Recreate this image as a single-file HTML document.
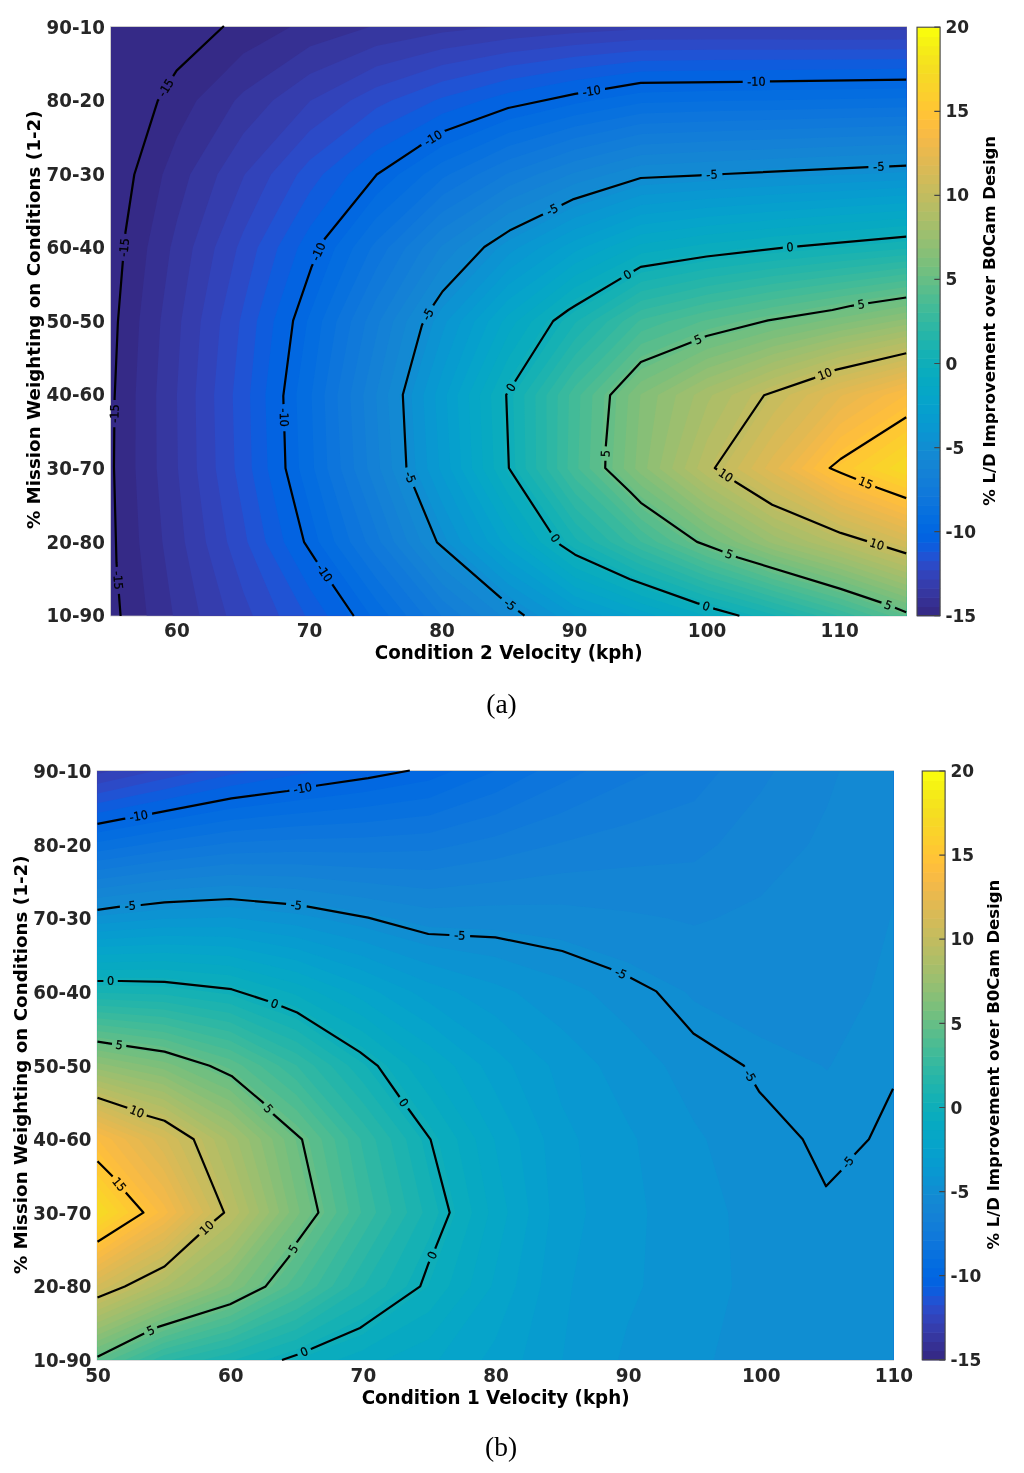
<!DOCTYPE html>
<html><head><meta charset="utf-8"><title>figure</title>
<style>html,body{margin:0;padding:0;background:#fff;width:1024px;height:1473px;overflow:hidden}svg{display:block}</style>
</head><body><svg width="1024" height="1473" viewBox="0 0 1024 1473">
<rect x="111.00" y="27.00" width="795.30" height="588.60" fill="none" stroke="#b8b8b8" stroke-width="1.4"/>
<rect x="97.50" y="771.00" width="795.80" height="588.80" fill="none" stroke="#b8b8b8" stroke-width="1.4"/>
<rect x="111.0" y="27.0" width="795.3" height="588.6" fill="#352a87"/>
<path d="M196.6 100.6L243.5 53.6L290.3 27L309.8 27L376.1 27L442.4 27L508.6 27L574.9 27L641.2 27L707.5 27L773.7 27L840 27L906.3 27L906.3 100.6L906.3 174.2L906.3 247.7L906.3 321.3L906.3 394.9L906.3 468.5L906.3 542L906.3 615.6L840 615.6L773.7 615.6L707.5 615.6L641.2 615.6L574.9 615.6L508.6 615.6L442.4 615.6L376.1 615.6L309.8 615.6L243.5 615.6L177.3 615.6L146.7 615.6L139.2 542L135.5 468.5L135.6 394.9L139.3 321.3L147.3 247.7L162.6 174.2L177.3 136.7Z" fill="#363093"/>
<path d="M234.7 100.6L243.5 91.8L309.8 46.4L369.4 27L376.1 27L442.4 27L508.6 27L574.9 27L641.2 27L707.5 27L773.7 27L840 27L906.3 27L906.3 100.6L906.3 174.2L906.3 247.7L906.3 321.3L906.3 394.9L906.3 468.5L906.3 542L906.3 615.6L840 615.6L773.7 615.6L707.5 615.6L641.2 615.6L574.9 615.6L508.6 615.6L442.4 615.6L376.1 615.6L309.8 615.6L243.5 615.6L177.3 615.6L172.9 615.6L162.4 542L156.7 468.5L156.2 394.9L160.4 321.3L170.4 247.7L177.3 219.5L190.3 174.2Z" fill="#3637a0"/>
<path d="M272.8 100.6L309.8 73.9L376.1 46L442.4 32.6L493.6 27L508.6 27L574.9 27L641.2 27L707.5 27L773.7 27L840 27L906.3 27L906.3 100.6L906.3 174.2L906.3 247.7L906.3 321.3L906.3 394.9L906.3 468.5L906.3 542L906.3 615.6L840 615.6L773.7 615.6L707.5 615.6L641.2 615.6L574.9 615.6L508.6 615.6L442.4 615.6L376.1 615.6L309.8 615.6L243.5 615.6L199.5 615.6L184.8 542L177.9 468.5L177.3 421.3L176.9 394.9L177.3 388.6L181.2 321.3L192.8 247.7L217.6 174.2L243.5 133.5Z" fill="#353dad"/>
<path d="M310.8 100.6L376.1 66.6L442.4 48.9L508.6 39.1L574.9 33.1L641.2 29.3L707.5 29.2L773.7 29.5L840 29.8L906.3 29.9L906.3 100.6L906.3 174.2L906.3 247.7L906.3 321.3L906.3 394.9L906.3 468.5L906.3 542L906.3 615.6L840 615.6L773.7 615.6L707.5 615.6L641.2 615.6L574.9 615.6L508.6 615.6L442.4 615.6L376.1 615.6L309.8 615.6L243.5 615.6L226.2 615.6L205.9 542L196.8 468.5L195.5 394.9L200.7 321.3L214.8 247.7L243.5 176.9L244.9 174.2L309.8 101.3Z" fill="#3243ba"/>
<path d="M350.5 100.6L376.1 87.3L442.4 65.1L508.6 52.5L574.9 44.9L641.2 39.8L707.5 39.5L773.7 39.6L840 39.7L906.3 39.6L906.3 100.6L906.3 174.2L906.3 247.7L906.3 321.3L906.3 394.9L906.3 468.5L906.3 542L906.3 615.6L840 615.6L773.7 615.6L707.5 615.6L641.2 615.6L574.9 615.6L508.6 615.6L442.4 615.6L376.1 615.6L309.8 615.6L252.8 615.6L243.6 592.8L227.1 542L215.7 468.5L214.1 394.9L220.2 321.3L236.9 247.7L243.5 231.3L271.1 174.2L309.8 130.7Z" fill="#2c4ac7"/>
<path d="M391.5 100.6L442.4 81.4L508.6 66L574.9 56.7L641.2 50.4L707.5 49.8L773.7 49.7L840 49.6L906.3 49.3L906.3 100.6L906.3 174.2L906.3 247.7L906.3 321.3L906.3 394.9L906.3 468.5L906.3 542L906.3 615.6L840 615.6L773.7 615.6L707.5 615.6L641.2 615.6L574.9 615.6L508.6 615.6L442.4 615.6L376.1 615.6L309.8 615.6L279 615.6L247.5 542L243.5 518.8L234.6 468.5L232.7 394.9L239.7 321.3L243.5 305L257.6 247.7L297.3 174.2L309.8 160.1L376.1 108.2Z" fill="#2053d4"/>
<path d="M434.6 100.6L442.4 97.6L508.6 79.4L574.9 68.5L641.2 60.9L707.5 60.1L773.7 59.8L840 59.5L906.3 59.1L906.3 100.6L906.3 174.2L906.3 247.7L906.3 321.3L906.3 394.9L906.3 468.5L906.3 542L906.3 615.6L840 615.6L773.7 615.6L707.5 615.6L641.2 615.6L574.9 615.6L508.6 615.6L442.4 615.6L376.1 615.6L309.8 615.6L305.2 615.6L265.7 542L251.8 468.5L250 394.9L256.9 321.3L277.7 247.7L309.8 192.2L323 174.2L376.1 129.5Z" fill="#0f5cdd"/>
<path d="M481.3 100.6L508.6 92.8L574.9 80.2L641.2 71.4L707.5 70.4L773.7 69.9L840 69.4L906.3 68.8L906.3 100.6L906.3 174.2L906.3 247.7L906.3 321.3L906.3 394.9L906.3 468.5L906.3 542L906.3 615.6L840 615.6L773.7 615.6L707.5 615.6L641.2 615.6L574.9 615.6L508.6 615.6L442.4 615.6L376.1 615.6L327.4 615.6L309.8 588.7L283.9 542L267.6 468.5L265.4 394.9L273.7 321.3L297.8 247.7L309.8 227L348.3 174.2L376.1 150.8L442.4 113.8Z" fill="#0363e1"/>
<path d="M533.1 100.6L574.9 92L641.2 82L707.5 80.7L773.7 80L840 79.3L906.3 78.5L906.3 100.6L906.3 174.2L906.3 247.7L906.3 321.3L906.3 394.9L906.3 468.5L906.3 542L906.3 615.6L840 615.6L773.7 615.6L707.5 615.6L641.2 615.6L574.9 615.6L508.6 615.6L442.4 615.6L376.1 615.6L348.8 615.6L309.8 556L302.1 542L283.3 468.5L280.9 394.9L290.4 321.3L309.8 266.7L317 247.7L373.6 174.2L376.1 172L442.4 129.9L508.6 106.2Z" fill="#0268e1"/>
<path d="M592.4 100.6L641.2 92.5L707.5 91L773.7 90.1L840 89.2L906.3 88.3L906.3 100.6L906.3 174.2L906.3 247.7L906.3 321.3L906.3 394.9L906.3 468.5L906.3 542L906.3 615.6L840 615.6L773.7 615.6L707.5 615.6L641.2 615.6L574.9 615.6L508.6 615.6L442.4 615.6L376.1 615.6L370.2 615.6L318.8 542L309.8 508.5L299 468.5L296.3 394.9L307.1 321.3L309.8 313.7L335 247.7L376.1 194.9L398.7 174.2L442.4 146L508.7 119.5L574.9 103.7Z" fill="#046de0"/>
<path d="M751.9 100.6L773.7 100.2L840 99.1L906.3 98L906.3 100.6L906.3 174.2L906.3 247.7L906.3 321.3L906.3 394.9L906.3 468.5L906.3 542L906.3 615.6L840 615.6L773.7 615.6L707.5 615.6L641.2 615.6L574.9 615.6L508.6 615.6L442.4 615.6L388.7 615.6L376.1 599.9L334.4 542L314 468.5L311.5 394.9L322 321.3L352.9 247.7L376.1 217.9L423.7 174.2L442.4 162.1L508.6 132.8L574.9 115.2L641.2 103L707.5 101.2Z" fill="#0871de"/>
<path d="M449.5 174.2L508.6 146.1L574.9 126.6L641.2 113.4L707.5 111.3L773.7 110L840 108.6L906.3 107.3L906.3 174.2L906.3 247.7L906.3 321.3L906.3 394.9L906.3 468.5L906.3 542L906.3 615.6L840 615.6L773.7 615.6L707.5 615.6L641.2 615.6L574.9 615.6L508.6 615.6L442.4 615.6L406.2 615.6L376.1 578.2L350 542L327.3 468.5L324.4 394.9L336.5 321.3L370.8 247.7L376.1 240.9L442.4 178.4Z" fill="#0d75dc"/>
<path d="M477.6 174.2L508.6 159.5L574.9 138.1L641.2 123.8L707.5 121.4L773.7 119.8L840 118.1L906.3 116.6L906.3 174.2L906.3 247.7L906.3 321.3L906.3 394.9L906.3 468.5L906.3 542L906.3 615.6L840 615.6L773.7 615.6L707.5 615.6L641.2 615.6L574.9 615.6L508.6 615.6L442.4 615.6L423.7 615.6L376.1 556.6L365.6 542L340.6 468.5L337.3 394.9L351 321.3L376.1 269L388.2 247.7L442.4 195.1Z" fill="#1079da"/>
<path d="M505.7 174.2L508.6 172.8L574.9 149.5L641.2 134.1L707.5 131.5L773.7 129.5L840 127.6L906.3 125.8L906.3 174.2L906.3 247.7L906.3 321.3L906.3 394.9L906.3 468.5L906.3 542L906.3 615.6L840 615.6L773.7 615.6L707.5 615.6L641.2 615.6L574.9 615.6L508.6 615.6L442.4 615.6L441.2 615.6L380.5 542L376.1 529.9L353.9 468.5L350.3 394.9L365.5 321.3L376.1 299.2L405.4 247.7L442.4 211.8Z" fill="#127dd8"/>
<path d="M537.6 174.1L574.9 161L641.2 144.5L707.5 141.5L773.7 139.3L840 137.1L906.3 135.1L906.3 174.2L906.3 247.7L906.3 321.3L906.3 394.9L906.3 468.5L906.3 542L906.3 615.6L840 615.6L773.7 615.6L707.5 615.6L641.2 615.6L574.9 615.6L508.6 615.6L460.8 615.6L442.4 600.5L393.9 542L376.1 493L367.2 468.5L363.2 394.9L376.1 336.8L379.7 321.3L422.6 247.7L442.4 228.5L508.6 186.2Z" fill="#1481d6"/>
<path d="M570 174.2L574.9 172.4L641.2 154.9L707.5 151.6L773.7 149L840 146.5L906.3 144.3L906.3 174.2L906.3 247.7L906.3 321.3L906.3 394.9L906.3 468.5L906.3 542L906.3 615.6L840 615.6L773.7 615.6L707.5 615.6L641.2 615.6L574.9 615.6L508.6 615.6L480.6 615.6L442.4 584.4L407.3 542L380 468.5L376.1 394.9L393.1 321.3L439.8 247.7L442.4 245.2L508.6 199.7Z" fill="#1485d4"/>
<path d="M607.9 174.2L641.2 165.3L707.5 161.7L773.7 158.8L840 156L906.3 153.5L906.3 174.2L906.3 247.7L906.3 321.3L906.3 394.9L906.3 468.5L906.3 542L906.3 615.6L840 615.6L773.7 615.6L707.5 615.6L641.2 615.6L574.9 615.6L508.6 615.6L500.4 615.6L442.4 568.2L420.7 542L391.9 468.5L387.9 394.9L406.5 321.3L442.4 265.5L458.9 247.7L508.6 213.2L574.9 183.7Z" fill="#1389d3"/>
<path d="M666.4 174.2L707.5 171.7L773.7 168.6L840 165.5L906.3 162.8L906.3 174.2L906.3 247.7L906.3 321.3L906.3 394.9L906.3 468.5L906.3 542L906.3 615.6L840 615.6L773.7 615.6L707.5 615.6L641.2 615.6L574.9 615.6L519.3 615.6L508.6 608.6L442.4 552L434.1 542L403.7 468.5L399.7 394.9L420 321.3L442.4 286.4L478.4 247.7L508.6 226.7L574.9 195L641.2 175.6Z" fill="#108ed2"/>
<path d="M858 174.2L906.3 172L906.3 174.2L906.3 247.7L906.3 321.3L906.3 394.9L906.3 468.5L906.3 542L906.3 615.6L840 615.6L773.7 615.6L707.5 615.6L641.2 615.6L574.9 615.6L537.8 615.6L508.6 596.6L447.5 542L442.4 531.4L415.5 468.5L411.5 394.9L433.4 321.3L442.4 307.3L497.8 247.7L508.6 240.2L574.9 206.3L641.2 185.3L707.5 181L773.7 177.7L840 174.8Z" fill="#0c93d2"/>
<path d="M518.1 247.7L574.9 217.6L641.2 195.1L707.5 189.9L773.7 186.2L840 182.9L906.3 180L906.3 247.7L906.3 321.3L906.3 394.9L906.3 468.5L906.3 542L906.3 615.6L840 615.6L773.7 615.6L707.5 615.6L641.2 615.6L574.9 615.6L556.2 615.6L508.6 584.5L461 542L442.4 503.7L427.3 468.5L423.3 394.9L442.4 333.8L447 321.3L508.6 254.4Z" fill="#0998d1"/>
<path d="M539.4 247.7L574.9 228.9L641.2 204.9L707.5 198.8L773.8 194.6L840 190.9L906.3 187.6L906.3 247.7L906.3 321.3L906.3 394.9L906.3 468.5L906.3 542L906.3 615.6L840 615.6L773.7 615.6L707.5 615.6L641.2 615.6L574.9 615.6L574.6 615.6L508.6 572.5L474.5 542L442.4 476.1L439.1 468.5L435 394.9L442.4 371.5L460.8 321.3L508.6 269.4Z" fill="#079ccf"/>
<path d="M560.7 247.7L574.9 240.2L641.2 214.6L707.5 207.8L773.7 203L840 199L906.3 195.3L906.3 247.7L906.3 321.3L906.3 394.9L906.3 468.5L906.3 542L906.3 615.6L840 615.6L773.7 615.6L707.5 615.6L641.2 615.6L602.2 615.6L574.9 606.2L508.6 560.5L488 542L450.3 468.5L446.6 394.9L474.6 321.3L508.6 284.3Z" fill="#06a0cd"/>
<path d="M583 247.7L641.2 224.4L707.5 216.7L773.7 211.4L840 207L906.3 202.9L906.3 247.7L906.3 321.3L906.3 394.9L906.3 468.5L906.3 542L906.3 615.6L840 615.6L773.7 615.6L707.5 615.6L641.2 615.6L629.9 615.6L574.9 596.6L508.6 548.4L501.5 542L461.1 468.5L457.6 394.9L488.4 321.3L508.6 299.3L574.9 251.7Z" fill="#06a4ca"/>
<path d="M607.4 247.7L641.2 234.2L707.5 225.7L773.7 219.8L840 215.1L906.3 210.5L906.3 247.7L906.3 321.3L906.3 394.9L906.3 468.5L906.3 542L906.3 615.6L840 615.6L773.7 615.6L707.5 615.6L655.7 615.6L641.2 611.1L574.9 587.1L514.6 542L508.6 533.1L472 468.5L468.7 394.9L502.2 321.3L508.6 314.3L574.9 263.5Z" fill="#06a7c6"/>
<path d="M631.8 247.7L641.2 243.9L707.5 234.6L773.7 228.2L840 223.1L906.3 218.2L906.3 247.7L906.3 321.3L906.3 394.9L906.3 468.5L906.3 542L906.3 615.6L840 615.6L773.7 615.6L707.5 615.6L680.2 615.6L641.2 603.4L574.9 577.5L527.4 542L508.6 514L482.8 468.5L479.8 394.9L508.6 333.8L516.7 321.3L574.9 275.4Z" fill="#07a9c2"/>
<path d="M678.9 247.7L707.5 243.6L773.7 236.6L840 231.2L906.3 225.8L906.3 247.7L906.3 321.3L906.3 394.9L906.3 468.5L906.3 542L906.3 615.6L840 615.6L773.7 615.6L707.5 615.6L704.6 615.6L641.2 595.7L574.9 568L540.2 542L508.6 494.8L493.7 468.5L490.9 394.9L508.6 357.2L531.8 321.3L574.9 287.3L641.2 253.5Z" fill="#0aacbe"/>
<path d="M749 247.7L773.7 245L840 239.2L906.3 233.4L906.3 247.7L906.3 321.3L906.3 394.9L906.3 468.5L906.3 542L906.3 615.6L840 615.6L773.7 615.6L728.8 615.6L707.5 609.7L641.2 588.1L574.9 558.4L553 542L508.6 475.7L504.6 468.5L501.9 394.9L508.6 380.7L546.8 321.3L574.9 299.2L641.2 262.9L707.5 252.2Z" fill="#0faeb9"/>
<path d="M834.6 247.7L840 247.2L906.3 241.1L906.3 247.7L906.3 321.3L906.3 394.9L906.3 468.5L906.3 542L906.3 615.6L840 615.6L773.7 615.6L752.8 615.6L707.5 603.1L641.2 580.4L574.9 548.8L565.8 542L515.2 468.5L513.1 394.9L561.9 321.3L574.9 311L641.2 272.4L707.5 260.7L773.7 253Z" fill="#15b1b4"/>
<path d="M577 321.3L641.2 281.8L707.5 269.1L773.7 260.7L840 254.3L906.3 248.5L906.3 321.3L906.3 394.9L906.3 468.5L906.3 542L906.3 615.6L840 615.6L776.4 615.6L773.7 614.8L707.5 596.5L641.2 572.7L579.4 542L574.9 537.8L525.6 468.5L524.2 394.9L574.9 323.4Z" fill="#1db3af"/>
<path d="M592.3 321.3L641.2 291.2L707.5 277.6L773.7 268.4L840 261.3L906.3 254.9L906.3 321.3L906.3 394.9L906.3 468.5L906.3 542L906.3 615.6L840 615.6L796.7 615.6L773.7 608.9L707.5 589.9L641.2 565.1L594.8 542L574.9 523.1L536.1 468.5L535.4 394.9L574.9 339.2Z" fill="#25b5a9"/>
<path d="M607.7 321.3L641.2 300.7L707.5 286L773.7 276.1L840 268.4L906.3 261.3L906.3 321.3L906.3 394.9L906.3 468.5L906.3 542L906.3 615.6L840 615.6L817 615.6L773.7 603L707.5 583.2L641.2 557.4L610.2 542L574.9 508.3L546.6 468.5L546.5 394.9L574.9 354.9Z" fill="#2eb7a4"/>
<path d="M623 321.3L641.2 310.1L707.5 294.4L773.7 283.8L840 275.4L906.3 267.7L906.3 321.3L906.3 394.9L906.3 468.5L906.3 542L906.3 615.6L840 615.6L837.2 615.6L773.7 597.1L707.5 576.6L641.2 549.7L625.7 542L574.9 493.6L557.1 468.5L557.7 394.9L574.9 370.6Z" fill="#38b99e"/>
<path d="M638.3 321.3L641.2 319.5L707.5 302.9L773.7 291.5L840 282.4L906.3 274.1L906.3 321.3L906.3 394.9L906.3 468.5L906.3 542L906.3 615.6L855 615.6L840 610.5L773.7 591.1L707.5 570L641.2 542.1L641.1 542L574.9 478.9L567.5 468.5L568.9 394.9L574.9 386.3Z" fill="#42bb98"/>
<path d="M668.1 321.3L707.5 311.3L773.7 299.2L840 289.4L906.3 280.5L906.3 321.3L906.3 394.9L906.3 468.5L906.3 542L906.3 615.6L872.3 615.6L840 604.5L773.7 585.2L707.5 563.3L656.8 542L641.2 530.8L578.3 468.4L580.4 394.9L641.2 331.4Z" fill="#4dbc92"/>
<path d="M701.3 321.3L707.5 319.7L773.7 307L840 296.4L906.3 286.9L906.3 321.3L906.3 394.9L906.3 468.5L906.3 542L906.3 615.6L889.6 615.6L840 598.5L773.7 579.3L707.5 556.7L672.6 542L641.2 519.6L589.6 468.5L592.4 394.9L641.2 344Z" fill="#59bd8c"/>
<path d="M739.7 321.3L773.7 314.7L840 303.4L906.3 293.2L906.3 321.3L906.3 394.9L906.3 468.5L906.3 542L906.3 615.4L840 592.6L773.7 573.4L707.5 550.1L688.3 542L641.2 508.3L601 468.5L604.4 394.9L641.2 356.5L707.5 329.2Z" fill="#65be86"/>
<path d="M779.2 321.3L840 310.5L906.3 299.6L906.3 321.3L906.3 394.9L906.3 468.5L906.3 542L906.3 609.2L840 586.6L773.7 567.5L707.5 543.5L704 542L641.2 497.1L612.3 468.5L616.4 394.9L641.2 369L707.5 338.9L773.7 322.4Z" fill="#71bf80"/>
<path d="M818.6 321.3L840 317.5L906.3 306L906.3 321.3L906.3 394.9L906.3 468.5L906.3 542L906.3 603.1L840 580.7L773.7 561.5L720.2 542L707.5 534.5L641.2 485.8L623.7 468.5L628.4 394.9L641.2 381.5L707.5 348.7L773.7 330.3Z" fill="#7cbf7b"/>
<path d="M856.4 321.3L906.3 312.4L906.3 321.3L906.3 394.9L906.3 468.5L906.3 542L906.3 597L840 574.7L773.8 555.6L736.4 542L707.5 524.8L641.2 474.5L635.1 468.5L640.4 394.9L641.2 394L707.5 358.4L773.7 338.3L840 324.3Z" fill="#87bf77"/>
<path d="M892.3 321.3L906.3 318.8L906.3 321.3L906.3 394.9L906.3 468.5L906.3 542L906.3 590.8L840 568.8L773.8 549.7L752.7 542L707.5 515.2L647 468.5L657.9 394.9L707.5 368.1L773.7 346.2L840 330.8Z" fill="#92bf73"/>
<path d="M676 394.9L707.5 377.9L773.7 354.1L840 337.3L906.3 324.8L906.3 394.9L906.3 468.5L906.3 542L906.3 584.7L840 562.8L773.7 543.8L768.9 542L707.5 505.5L659.5 468.5Z" fill="#9cbf6f"/>
<path d="M694 394.9L707.5 387.6L773.7 362.1L840 343.8L906.3 330.7L906.3 394.9L906.3 468.5L906.3 542L906.3 578.5L840 556.8L788.4 542L773.7 535.8L707.5 495.8L672 468.5Z" fill="#a5be6b"/>
<path d="M712.4 394.9L773.7 370L840 350.3L906.3 336.5L906.3 394.9L906.3 468.5L906.3 542L906.3 572.4L840 550.9L809.1 542L773.7 527L707.5 486.2L684.5 468.5L707.5 403.7Z" fill="#aebe67"/>
<path d="M731.9 394.9L773.7 377.9L840 356.8L906.3 342.3L906.3 394.9L906.3 468.5L906.3 542L906.3 566.3L840 544.9L829.9 542L773.7 518.2L707.5 476.5L697 468.5L707.5 439Z" fill="#b7bd64"/>
<path d="M751.5 394.9L773.7 385.8L840 363.3L906.3 348.1L906.3 394.9L906.3 468.5L906.3 542L906.3 560.1L849.8 542L840 538.5L773.7 509.4L709.8 468.5Z" fill="#c0bc60"/>
<path d="M771 394.9L773.7 393.8L840 369.8L906.3 353.9L906.3 394.9L906.3 468.5L906.3 542L906.3 554L869 542L840 531.7L773.7 500.5L723.6 468.5Z" fill="#c8bc5d"/>
<path d="M789.1 394.9L840 376.3L906.3 359.7L906.3 394.9L906.3 468.5L906.3 542L906.3 547.8L888.2 542L840 524.9L773.7 491.7L737.4 468.4L773.7 413Z" fill="#d1bb59"/>
<path d="M807 394.9L840 382.8L906.3 365.5L906.3 394.9L906.3 468.5L906.3 541.7L840 518.1L773.7 482.9L751.1 468.5L773.7 434Z" fill="#d9ba56"/>
<path d="M824.8 394.9L840 389.3L906.3 371.3L906.3 394.9L906.3 468.5L906.3 535L840 511.3L773.7 474.1L764.9 468.5L773.7 455Z" fill="#e1b952"/>
<path d="M843.1 394.9L906.3 377.1L906.3 394.9L906.3 468.5L906.3 528.3L840 504.4L778 468.5L840 396.9Z" fill="#e9b94e"/>
<path d="M863.8 394.9L906.3 383L906.3 394.9L906.3 468.5L906.3 521.6L840 497.6L789.7 468.5L840 410.4Z" fill="#f1b94a"/>
<path d="M884.5 394.9L906.3 388.8L906.3 394.9L906.3 468.5L906.3 515L840 490.8L801.5 468.5L840 424Z" fill="#f8bb44"/>
<path d="M905.3 394.9L906.3 394.6L906.3 394.9L906.3 468.5L906.3 508.3L840 484L813.2 468.5L840 437.6Z" fill="#fdbe3d"/>
<path d="M825 468.5L840 451.1L906.3 406.7L906.3 468.5L906.3 501.6L840 477.2Z" fill="#ffc337"/>
<path d="M836.7 468.5L840 464.7L906.3 419.1L906.3 468.5L906.3 494.9L840 470.4Z" fill="#fec832"/>
<path d="M853 468.5L906.3 431.6L906.3 468.5L906.3 488.3Z" fill="#fcce2e"/>
<path d="M870.9 468.5L906.3 444L906.3 468.5L906.3 481.6Z" fill="#fad32a"/>
<path d="M888.9 468.5L906.3 456.4L906.3 468.5L906.3 474.9Z" fill="#f7d826"/>
<path d="M223.9 26.0 L176.6 70.6 L173.1 76.2 M158.7 99.3 L157.8 100.7 L134.3 174.5 L125.5 232.0 L125.3 233.8 M122.9 260.9 L122.8 261.9 L117.9 322.0 L114.6 398.6 L114.6 400.0 M114.3 427.2 L114.0 467.0 L116.5 562.7 L116.8 566.8 M118.9 593.9 L120.6 616.0 M353.8 616.0 L332.3 584.4 M317.0 561.9 L315.6 559.9 L304.1 542.2 L285.5 468.3 L284.4 431.3 M283.5 404.1 L283.3 395.9 L293.1 320.7 L311.4 267.3 L312.8 264.1 M324.2 239.5 L376.8 174.5 L419.2 146.3 L421.4 145.0 M444.8 131.0 L445.2 130.7 L508.1 108.0 L575.1 93.8 L578.2 93.3 M605.0 88.9 L605.2 88.9 L640.7 82.9 L742.1 81.8 L742.7 81.8 M769.9 81.3 L772.2 81.3 L906.2 79.6 M524.5 615.7 L518.2 610.9 M501.6 598.4 L499.9 597.1 L437.0 542.4 L414.3 487.7 L414.0 486.9 M406.5 467.5 L406.4 467.2 L402.8 394.8 L422.0 325.0 L422.9 323.4 M433.2 305.3 L442.5 291.5 L484.3 247.0 L509.5 230.6 L542.3 214.7 L543.0 214.4 M561.6 205.1 L573.7 199.1 L640.7 178.0 L699.7 175.3 L701.6 175.2 M722.4 174.1 L724.3 174.0 L867.9 167.1 L868.4 167.1 M889.2 166.3 L889.8 166.3 L906.2 165.7 M739.4 615.7 L714.8 608.9 L713.2 608.4 M699.5 603.9 L697.0 603.1 L630.0 579.3 L575.1 554.7 L560.0 544.6 L559.5 544.0 M550.9 532.5 L550.5 532.0 L508.9 468.0 L506.2 394.8 L507.0 393.5 M515.0 381.5 L553.2 321.0 L568.3 310.0 L575.1 305.8 L621.0 278.4 L621.3 278.2 M633.7 271.0 L640.7 266.9 L706.6 256.5 L781.8 247.8 L782.8 247.7 M797.2 246.5 L798.2 246.4 L906.2 236.6 M906.2 612.2 L895.0 607.8 M881.5 602.6 L840.6 588.9 L738.0 557.5 L735.9 556.7 M722.5 551.5 L720.2 550.6 L697.0 541.9 L640.9 502.8 L630.0 491.8 L605.2 468.0 L605.4 460.8 M605.8 446.4 L610.1 395.3 L640.9 362.0 L690.2 342.8 L691.5 342.3 M704.8 336.8 L706.6 336.0 L768.1 320.4 L832.4 310.0 L851.5 305.8 L854.0 305.4 M868.2 303.2 L869.3 303.0 L906.2 297.5 M906.2 553.4 L887.0 547.4 L886.8 547.4 M867.0 541.1 L840.6 532.9 L772.2 504.7 L735.3 481.7 L734.4 481.1 M717.1 469.5 L714.8 468.0 L764.0 395.3 L813.2 378.4 L815.2 377.6 M834.6 370.3 L836.5 369.6 L906.2 353.2 M906.2 498.1 L877.5 487.7 L875.3 486.8 M856.0 479.0 L840.6 472.7 L829.6 468.0 L840.6 459.0 L906.2 417.2" fill="none" stroke="#000" stroke-width="2.2" stroke-linejoin="round"/>
<g font-family="DejaVu Sans, sans-serif" font-size="11.3" fill="#000" stroke="#000" stroke-width="0.2" text-anchor="middle" dominant-baseline="central"><text transform="translate(165.9 87.8) rotate(-58.0) scale(1 1.06)">-15</text><text transform="translate(124.1 247.4) rotate(-84.8) scale(1 1.06)">-15</text><text transform="translate(114.5 413.6) rotate(-89.5) scale(1 1.06)">-15</text><text transform="translate(117.9 580.4) rotate(85.6) scale(1 1.06)">-15</text><text transform="translate(318.5 251.7) rotate(-65.6) scale(1 1.06)">-10</text><text transform="translate(284.0 417.7) rotate(88.3) scale(1 1.06)">-10</text><text transform="translate(324.6 573.1) rotate(55.7) scale(1 1.06)">-10</text><text transform="translate(433.1 138.0) rotate(-31.0) scale(1 1.06)">-10</text><text transform="translate(591.6 91.1) rotate(-9.2) scale(1 1.06)">-10</text><text transform="translate(756.3 81.6) rotate(-1.0) scale(1 1.06)">-10</text><text transform="translate(552.3 209.7) rotate(-26.4) scale(1 1.06)">-5</text><text transform="translate(428.0 314.4) rotate(-60.4) scale(1 1.06)">-5</text><text transform="translate(712.0 174.6) rotate(-3.0) scale(1 1.06)">-5</text><text transform="translate(878.8 166.7) rotate(-2.1) scale(1 1.06)">-5</text><text transform="translate(410.2 477.2) rotate(68.9) scale(1 1.06)">-5</text><text transform="translate(509.9 604.6) rotate(37.1) scale(1 1.06)">-5</text><text transform="translate(627.5 274.6) rotate(-30.3) scale(1 1.06)">0</text><text transform="translate(790.0 247.1) rotate(-4.9) scale(1 1.06)">0</text><text transform="translate(511.0 387.5) rotate(-56.6) scale(1 1.06)">0</text><text transform="translate(555.2 538.2) rotate(53.0) scale(1 1.06)">0</text><text transform="translate(706.3 606.1) rotate(18.0) scale(1 1.06)">0</text><text transform="translate(861.1 304.3) rotate(-8.9) scale(1 1.06)">5</text><text transform="translate(605.6 453.6) rotate(-88.5) scale(1 1.06)">5</text><text transform="translate(698.1 339.5) rotate(-22.5) scale(1 1.06)">5</text><text transform="translate(729.2 554.1) rotate(21.2) scale(1 1.06)">5</text><text transform="translate(888.2 605.2) rotate(21.3) scale(1 1.06)">5</text><text transform="translate(824.9 374.0) rotate(-20.7) scale(1 1.06)">10</text><text transform="translate(725.8 475.3) rotate(33.8) scale(1 1.06)">10</text><text transform="translate(876.9 544.3) rotate(17.4) scale(1 1.06)">10</text><text transform="translate(865.7 482.9) rotate(22.1) scale(1 1.06)">15</text></g>
<rect x="97.5" y="771.0" width="795.8" height="588.8" fill="#352a87"/>
<path d="M97.5 771L163.8 771L230.1 771L296.4 771L362.8 771L429.1 771L495.4 771L561.7 771L628 771L694.3 771L760.7 771L827 771L893.3 771L893.3 844.6L893.3 918.2L893.3 991.8L893.3 1065.4L893.3 1139L893.3 1212.6L893.3 1286.2L893.3 1359.8L827 1359.8L760.7 1359.8L694.3 1359.8L628 1359.8L561.7 1359.8L495.4 1359.8L429.1 1359.8L362.8 1359.8L296.4 1359.8L230.1 1359.8L163.8 1359.8L97.5 1359.8L97.5 1286.2L97.5 1212.6L97.5 1139L97.5 1065.4L97.5 991.8L97.5 918.2L97.5 844.6Z" fill="#363093"/>
<path d="M97.5 771L163.8 771L230.1 771L296.4 771L362.8 771L429.1 771L495.4 771L561.7 771L628 771L694.3 771L760.7 771L827 771L893.3 771L893.3 844.6L893.3 918.2L893.3 991.8L893.3 1065.4L893.3 1139L893.3 1212.6L893.3 1286.2L893.3 1359.8L827 1359.8L760.7 1359.8L694.3 1359.8L628 1359.8L561.7 1359.8L495.4 1359.8L429.1 1359.8L362.8 1359.8L296.4 1359.8L230.1 1359.8L163.8 1359.8L97.5 1359.8L97.5 1286.2L97.5 1212.6L97.5 1139L97.5 1065.4L97.5 991.8L97.5 918.2L97.5 844.6Z" fill="#3637a0"/>
<path d="M97.5 771L163.8 771L230.1 771L296.4 771L362.8 771L429.1 771L495.4 771L561.7 771L628 771L694.3 771L760.7 771L827 771L893.3 771L893.3 844.6L893.3 918.2L893.3 991.8L893.3 1065.4L893.3 1139L893.3 1212.6L893.3 1286.2L893.3 1359.8L827 1359.8L760.7 1359.8L694.3 1359.8L628 1359.8L561.7 1359.8L495.4 1359.8L429.1 1359.8L362.8 1359.8L296.4 1359.8L230.1 1359.8L163.8 1359.8L97.5 1359.8L97.5 1286.2L97.5 1212.6L97.5 1139L97.5 1065.4L97.5 991.8L97.5 918.2L97.5 844.6Z" fill="#353dad"/>
<path d="M111.1 771L163.8 771L230.1 771L296.4 771L362.8 771L429.1 771L495.4 771L561.7 771L628 771L694.3 771L760.7 771L827 771L893.3 771L893.3 844.6L893.3 918.2L893.3 991.8L893.3 1065.4L893.3 1139L893.3 1212.6L893.3 1286.2L893.3 1359.8L827 1359.8L760.7 1359.8L694.3 1359.8L628 1359.8L561.7 1359.8L495.4 1359.8L429.1 1359.8L362.8 1359.8L296.4 1359.8L230.1 1359.8L163.8 1359.8L97.5 1359.8L97.5 1286.2L97.5 1212.6L97.5 1139L97.5 1065.4L97.5 991.8L97.5 918.2L97.5 844.6L97.5 774Z" fill="#3243ba"/>
<path d="M154.6 771L163.8 771L230.1 771L296.4 771L362.8 771L429.1 771L495.4 771L561.7 771L628 771L694.3 771L760.7 771L827 771L893.3 771L893.3 844.6L893.3 918.2L893.3 991.8L893.3 1065.4L893.3 1139L893.3 1212.6L893.3 1286.2L893.3 1359.8L827 1359.8L760.7 1359.8L694.3 1359.8L628 1359.8L561.7 1359.8L495.4 1359.8L429.1 1359.8L362.8 1359.8L296.4 1359.8L230.1 1359.8L163.8 1359.8L97.5 1359.8L97.5 1286.2L97.5 1212.6L97.5 1139L97.5 1065.4L97.5 991.8L97.5 918.2L97.5 844.6L97.5 783.8Z" fill="#2c4ac7"/>
<path d="M97.5 844.6L97.5 793.5L163.8 779.1L199.9 771L230.1 771L296.4 771L362.8 771L429.1 771L495.4 771L561.7 771L628 771L694.3 771L760.7 771L827 771L893.3 771L893.3 844.6L893.3 918.2L893.3 991.8L893.3 1065.4L893.3 1139L893.3 1212.6L893.3 1286.2L893.3 1359.8L827 1359.8L760.7 1359.8L694.3 1359.8L628 1359.8L561.7 1359.8L495.4 1359.8L429.1 1359.8L362.8 1359.8L296.4 1359.8L230.1 1359.8L163.8 1359.8L97.5 1359.8L97.5 1286.2L97.5 1212.6L97.5 1139L97.5 1065.4L97.5 991.8L97.5 918.2Z" fill="#2053d4"/>
<path d="M97.5 844.6L97.5 803.2L163.8 789.4L230.1 774.8L251.4 771L296.4 771L362.8 771L429.1 771L495.4 771L561.7 771L628 771L694.3 771L760.7 771L827 771L893.3 771L893.3 844.6L893.3 918.2L893.3 991.8L893.3 1065.4L893.3 1139L893.3 1212.6L893.3 1286.2L893.3 1359.8L827 1359.8L760.7 1359.8L694.3 1359.8L628 1359.8L561.7 1359.8L495.4 1359.8L429.1 1359.8L362.8 1359.8L296.4 1359.8L230.1 1359.8L163.8 1359.8L97.5 1359.8L97.5 1286.2L97.5 1212.6L97.5 1139L97.5 1065.4L97.5 991.8L97.5 918.2Z" fill="#0f5cdd"/>
<path d="M97.5 844.6L97.5 812.9L163.8 799.8L230.1 786.1L296.4 774.7L318.2 771L362.8 771L429.1 771L495.4 771L561.7 771L628 771L694.3 771L760.7 771L827 771L893.3 771L893.3 844.6L893.3 918.2L893.3 991.8L893.3 1065.4L893.3 1139L893.3 1212.6L893.3 1286.2L893.3 1359.8L827 1359.8L760.7 1359.8L694.3 1359.8L628 1359.8L561.7 1359.8L495.4 1359.8L429.1 1359.8L362.8 1359.8L296.4 1359.8L230.1 1359.8L163.8 1359.8L97.5 1359.8L97.5 1286.2L97.5 1212.6L97.5 1139L97.5 1065.4L97.5 991.8L97.5 918.2Z" fill="#0363e1"/>
<path d="M97.5 844.6L97.5 822.7L163.8 810.1L230.1 797.4L296.4 787.6L362.8 777.2L394.6 771L429.1 771L495.4 771L561.7 771L628 771L694.3 771L760.7 771L827 771L893.3 771L893.3 844.6L893.3 918.2L893.3 991.8L893.3 1065.4L893.3 1139L893.3 1212.6L893.3 1286.2L893.3 1359.8L827 1359.8L760.7 1359.8L694.3 1359.8L628 1359.8L561.7 1359.8L495.4 1359.8L429.1 1359.8L362.8 1359.8L296.4 1359.8L230.1 1359.8L163.8 1359.8L97.5 1359.8L97.5 1286.2L97.5 1212.6L97.5 1139L97.5 1065.4L97.5 991.8L97.5 918.2Z" fill="#0268e1"/>
<path d="M97.5 844.6L97.5 832.4L163.8 820.4L230.1 808.7L296.4 800.5L362.8 792.3L429.1 780.6L452.7 771L495.4 771L561.7 771L628 771L694.3 771L760.7 771L827 771L893.3 771L893.3 844.6L893.3 918.2L893.3 991.8L893.3 1065.4L893.3 1139L893.3 1212.6L893.3 1286.2L893.3 1359.8L827 1359.8L760.7 1359.8L694.3 1359.8L628 1359.8L561.7 1359.8L495.4 1359.8L429.1 1359.8L362.8 1359.8L296.4 1359.8L230.1 1359.8L163.8 1359.8L97.5 1359.8L97.5 1286.2L97.5 1212.6L97.5 1139L97.5 1065.4L97.5 991.8L97.5 918.2Z" fill="#046de0"/>
<path d="M97.5 844.6L97.5 842.1L163.8 830.7L230.1 820L296.4 813.4L362.8 807.3L429.1 798L495.4 771.1L495.5 771L561.7 771L628 771L694.3 771L760.7 771L827 771L893.3 771L893.3 844.6L893.3 918.2L893.3 991.8L893.3 1065.4L893.3 1139L893.3 1212.6L893.3 1286.2L893.3 1359.8L827 1359.8L760.7 1359.8L694.3 1359.8L628 1359.8L561.7 1359.8L495.4 1359.8L429.1 1359.8L362.8 1359.8L296.4 1359.8L230.1 1359.8L163.8 1359.8L97.5 1359.8L97.5 1286.2L97.5 1212.6L97.5 1139L97.5 1065.4L97.5 991.8L97.5 918.2Z" fill="#0871de"/>
<path d="M142.8 844.6L163.8 841L230.1 831.3L296.4 826.3L362.8 822.4L429.1 815.4L495.4 792.8L537.5 771L561.7 771L628 771L694.3 771L760.7 771L827 771L893.3 771L893.3 844.6L893.3 918.2L893.3 991.8L893.3 1065.4L893.3 1139L893.3 1212.6L893.3 1286.2L893.3 1359.8L827 1359.8L760.7 1359.8L694.3 1359.8L628 1359.8L561.7 1359.8L495.4 1359.8L429.1 1359.8L362.8 1359.8L296.4 1359.8L230.1 1359.8L163.8 1359.8L97.5 1359.8L97.5 1286.2L97.5 1212.6L97.5 1139L97.5 1065.4L97.5 991.8L97.5 918.2L97.5 851.5Z" fill="#0d75dc"/>
<path d="M216.3 844.6L230.1 842.6L296.4 839.2L362.8 837.4L429.1 832.9L495.4 814.6L561.7 783.4L585.9 771L628 771L694.3 771L760.7 771L827 771L893.3 771L893.3 844.6L893.3 918.2L893.3 991.8L893.3 1065.4L893.3 1139L893.3 1212.6L893.3 1286.2L893.3 1359.8L827 1359.8L760.7 1359.8L694.3 1359.8L628 1359.8L561.7 1359.8L495.4 1359.8L429.1 1359.8L362.8 1359.8L296.4 1359.8L230.1 1359.8L163.8 1359.8L97.5 1359.8L97.5 1286.2L97.5 1212.6L97.5 1139L97.5 1065.4L97.5 991.8L97.5 918.2L97.5 860.7L163.8 851Z" fill="#1079da"/>
<path d="M459.7 844.6L495.4 836.3L561.7 812.8L628 782.1L650.9 771L694.3 771L760.7 771L827 771L893.3 771L893.3 844.6L893.3 918.2L893.3 991.8L893.3 1065.4L893.3 1139L893.3 1212.6L893.3 1286.2L893.3 1359.8L827 1359.8L760.7 1359.8L694.3 1359.8L628 1359.8L561.7 1359.8L495.4 1359.8L429.1 1359.8L362.8 1359.8L296.4 1359.8L230.1 1359.8L163.8 1359.8L97.5 1359.8L97.5 1286.2L97.5 1212.6L97.5 1139L97.5 1065.4L97.5 991.8L97.5 918.2L97.5 869.9L163.8 860.7L230.1 853.4L296.4 851.8L362.8 852.4L429.1 850.8Z" fill="#127dd8"/>
<path d="M553.9 844.6L561.7 842.2L628 824.1L694.3 801.1L720 771L760.7 771L827 771L893.3 771L893.3 844.6L893.3 918.2L893.3 991.8L893.3 1065.4L893.3 1139L893.3 1212.6L893.3 1286.2L893.3 1359.8L827 1359.8L760.7 1359.8L694.3 1359.8L628 1359.8L561.7 1359.8L495.4 1359.8L429.1 1359.8L362.8 1359.8L296.4 1359.8L230.1 1359.8L163.8 1359.8L97.5 1359.8L97.5 1286.2L97.5 1212.6L97.5 1139L97.5 1065.4L97.5 991.8L97.5 918.2L97.5 879.2L163.8 870.4L230.1 864.1L296.5 864.2L362.8 867.4L429.1 870L495.4 858.9Z" fill="#1481d6"/>
<path d="M717.9 844.6L760.7 792.6L774.3 771L827 771L893.3 771L893.3 844.6L893.3 918.2L893.3 991.8L893.3 1065.4L893.3 1139L893.3 1212.6L893.3 1286.2L893.3 1359.8L827 1359.8L760.7 1359.8L694.3 1359.8L628 1359.8L561.7 1359.8L495.4 1359.8L429.1 1359.8L362.8 1359.8L296.4 1359.8L230.1 1359.8L163.8 1359.8L97.5 1359.8L97.5 1286.2L97.5 1212.6L97.5 1139L97.5 1065.4L97.5 991.8L97.5 918.2L97.5 888.4L163.8 880.1L230.1 874.7L296.4 876.6L362.8 882.4L429.1 889.1L495.4 882.1L561.7 873.2L628 867.3L694.3 862.1Z" fill="#1485d4"/>
<path d="M808.3 844.6L827 806.8L839.6 771L893.3 771L893.3 844.6L893.3 918.2L893.3 991.8L893.3 1065.4L893.3 1139L893.3 1212.6L893.3 1286.2L893.3 1359.8L827 1359.8L760.7 1359.8L694.3 1359.8L628 1359.8L561.7 1359.8L495.4 1359.8L429.1 1359.8L362.8 1359.8L296.4 1359.8L230.1 1359.8L163.8 1359.8L97.5 1359.8L97.5 1286.2L97.5 1212.6L97.5 1139L97.5 1065.4L97.5 991.8L97.5 918.2L97.5 897.7L163.8 889.8L230.1 885.4L296.4 889L362.8 897.4L429.1 908.3L495.4 905.2L561.7 904.4L628 911.6L667.5 918.2L694.3 925.6L716.3 918.2L760.7 896.5Z" fill="#1389d3"/>
<path d="M97.5 918.2L97.5 906.9L163.8 899.5L230.1 896L296.4 901.3L362.8 912.3L392.5 918.2L429.1 927.1L495.4 930.1L561.7 939.9L628 962.6L684.9 991.8L694.3 1001.6L760.7 1037.4L821.4 1065.4L827 1070.4L830.8 1065.4L870.4 991.8L890.2 918.2L893.3 903.8L893.3 918.2L893.3 991.8L893.3 1065.4L893.3 1139L893.3 1212.6L893.3 1286.2L893.3 1359.8L827 1359.8L760.7 1359.8L694.3 1359.8L628 1359.8L561.7 1359.8L495.4 1359.8L429.1 1359.8L362.8 1359.8L296.4 1359.8L230.1 1359.8L163.8 1359.8L97.5 1359.8L97.5 1286.2L97.5 1212.6L97.5 1139L97.5 1065.4L97.5 991.8Z" fill="#108ed2"/>
<path d="M97.5 918.2L97.5 916.1L163.8 909.2L230.1 906.7L296.4 913.7L321.2 918.2L362.8 927L429.1 945.7L495.4 957.1L561.7 978.7L590.5 991.8L628 1026.9L664.5 1065.4L694.3 1122.1L706.1 1139L728.1 1212.6L731.9 1286.2L713.7 1359.8L694.3 1359.8L628 1359.8L561.7 1359.8L495.4 1359.8L429.1 1359.8L362.8 1359.8L296.4 1359.8L230.1 1359.8L163.8 1359.8L97.5 1359.8L97.5 1286.2L97.5 1212.6L97.5 1139L97.5 1065.4L97.5 991.8Z" fill="#0c93d2"/>
<path d="M195.9 918.2L230.1 917.3L237.6 918.2L296.4 925.6L362.8 941.5L429.1 964.2L495.4 984.1L515.4 991.8L561.7 1028.8L598.8 1065.4L628 1123.5L637 1139L647.3 1212.6L643.2 1286.2L628 1322.9L617.9 1359.8L561.7 1359.8L495.4 1359.8L429.1 1359.8L362.8 1359.8L296.4 1359.8L230.1 1359.8L163.8 1359.8L97.5 1359.8L97.5 1286.2L97.5 1212.6L97.5 1139L97.5 1065.4L97.5 991.8L97.5 924.1L163.8 918.8Z" fill="#0998d1"/>
<path d="M97.5 991.8L97.5 931.8L163.8 927.3L230.1 927.1L296.4 937.2L362.8 956L429.1 982.8L455.9 991.8L495.4 1016L549 1065.4L561.7 1105.5L578.4 1139L586.1 1212.6L572.2 1286.2L562.5 1359.8L561.7 1359.8L495.4 1359.8L429.1 1359.8L362.8 1359.8L296.4 1359.8L230.1 1359.8L163.8 1359.8L97.5 1359.8L97.5 1286.2L97.5 1212.6L97.5 1139L97.5 1065.4Z" fill="#079ccf"/>
<path d="M97.5 991.8L97.5 939.4L163.8 935.8L230.1 936.7L296.4 948.8L362.8 970.5L411.8 991.8L429.1 1002.8L495.4 1049.8L512.3 1065.4L543.9 1139L549.8 1212.6L540.6 1286.2L522.6 1359.8L495.4 1359.8L429.1 1359.8L362.8 1359.8L296.4 1359.8L230.1 1359.8L163.8 1359.8L97.5 1359.8L97.5 1286.2L97.5 1212.6L97.5 1139L97.5 1065.4Z" fill="#06a0cd"/>
<path d="M97.5 991.8L97.5 947.1L163.8 944.2L230.1 946.4L296.4 960.3L362.8 985L378.4 991.8L429.1 1024L481 1065.4L495.4 1092.3L518.9 1139L528.9 1212.6L515.7 1286.2L495.4 1339.2L481.9 1359.8L429.1 1359.8L362.8 1359.8L296.4 1359.8L230.1 1359.8L163.8 1359.8L97.5 1359.8L97.5 1286.2L97.5 1212.6L97.5 1139L97.5 1065.4Z" fill="#06a4ca"/>
<path d="M97.5 991.8L97.5 954.7L163.8 952.7L230.1 956L296.4 971.9L347 991.8L362.8 1000.2L429.1 1045.3L454.3 1065.4L494.3 1139L495.4 1145.7L507.9 1212.6L495.4 1268.6L491.5 1286.2L438.9 1359.8L429.1 1359.8L362.8 1359.8L296.4 1359.8L230.1 1359.8L163.8 1359.8L97.5 1359.8L97.5 1286.2L97.5 1212.6L97.5 1139L97.5 1065.4Z" fill="#06a7c6"/>
<path d="M97.5 991.8L97.5 962.4L163.8 961.1L230.1 965.7L296.4 983.5L317.5 991.8L362.8 1015.9L428 1065.4L429.1 1067L475.6 1139L488.7 1212.6L470.3 1286.2L429.1 1338.9L385.3 1359.8L362.8 1359.8L296.4 1359.8L230.1 1359.8L163.8 1359.8L97.5 1359.8L97.5 1286.2L97.5 1212.6L97.5 1139L97.5 1065.4Z" fill="#07a9c2"/>
<path d="M97.5 991.8L97.5 970L163.8 969.6L230.1 975.3L287 991.8L296.4 995.1L362.8 1031.5L407.3 1065.4L429.1 1095.8L457 1139L472.1 1212.6L449.1 1286.2L429.1 1311.8L362.8 1350.3L338 1359.8L296.4 1359.8L230.1 1359.8L163.8 1359.8L97.5 1359.8L97.5 1286.2L97.5 1212.6L97.5 1139L97.5 1065.4Z" fill="#0aacbe"/>
<path d="M97.5 991.8L97.5 977.6L163.8 978L230.1 985L253.7 991.8L296.4 1006.8L362.8 1047.2L386.7 1065.4L429.1 1124.7L438.3 1139L455.4 1212.6L429.1 1283.8L427.9 1286.2L362.8 1334.6L296.8 1359.8L296.4 1359.8L230.1 1359.8L163.8 1359.8L97.5 1359.8L97.5 1286.2L97.5 1212.6L97.5 1139L97.5 1065.4Z" fill="#0faeb9"/>
<path d="M97.5 991.8L97.5 985.3L163.8 986.5L209.1 991.8L230.1 994.5L296.4 1018.5L362.8 1062.9L366.1 1065.4L421.4 1139L429.1 1173L438.8 1212.6L429.1 1238.9L406.7 1286.2L362.8 1318.8L296.4 1349.8L265.9 1359.8L230.1 1359.8L163.8 1359.8L97.5 1359.8L97.5 1286.2L97.5 1212.6L97.5 1139L97.5 1065.4Z" fill="#15b1b4"/>
<path d="M97.5 1065.4L97.5 992.7L163.8 994.6L230.1 1003.7L296.4 1030.2L348.3 1065.4L362.8 1082.3L406 1139L422.7 1212.6L385.5 1286.2L362.8 1303.1L296.4 1339.7L235 1359.8L230.1 1359.8L163.8 1359.8L97.5 1359.8L97.5 1286.2L97.5 1212.6L97.5 1139Z" fill="#1db3af"/>
<path d="M97.5 1065.4L97.5 999.1L163.8 1002L230.1 1013L296.4 1041.8L331.1 1065.4L362.8 1102.4L390.7 1139L407.2 1212.6L364.3 1286.2L362.8 1287.3L296.5 1329.6L230.1 1353.5L203.6 1359.8L163.8 1359.8L97.5 1359.8L97.5 1286.2L97.5 1212.6L97.5 1139Z" fill="#25b5a9"/>
<path d="M97.5 1065.4L97.5 1005.5L163.8 1009.5L230.1 1022.2L296.4 1053.5L313.9 1065.4L362.8 1122.5L375.4 1139L391.7 1212.6L362.8 1261.8L348.2 1286.2L296.4 1319.5L230.1 1346L172.2 1359.8L163.8 1359.8L97.5 1359.8L97.5 1286.2L97.5 1212.6L97.5 1139Z" fill="#2eb7a4"/>
<path d="M97.5 1065.4L97.5 1011.9L163.8 1017L230.1 1031.5L296.4 1065.2L296.7 1065.4L360.5 1139L362.8 1151.5L376.2 1212.6L362.8 1235.4L332.5 1286.2L296.4 1309.4L230.1 1338.5L163.8 1355.3L153.5 1359.8L97.5 1359.8L97.5 1286.2L97.5 1212.6L97.5 1139Z" fill="#38b99e"/>
<path d="M97.5 1065.4L97.5 1018.3L163.8 1024.4L230.1 1040.7L278.6 1065.4L296.4 1080.1L347.5 1139L361.1 1212.6L316.8 1286.2L296.4 1299.3L230.1 1331.1L163.8 1349.1L139.4 1359.8L97.5 1359.8L97.5 1286.2L97.5 1212.6L97.5 1139Z" fill="#42bb98"/>
<path d="M97.5 1065.4L97.5 1024.7L163.8 1031.9L230.1 1050L260.4 1065.4L296.4 1095.1L334.5 1139L348.9 1212.6L301.2 1286.2L296.4 1289.2L230.1 1323.6L163.8 1343L125.3 1359.8L97.5 1359.8L97.5 1286.2L97.5 1212.6L97.5 1139Z" fill="#4dbc92"/>
<path d="M97.5 1065.4L97.5 1031.1L163.8 1039.3L230.1 1059.2L242.3 1065.4L296.4 1110.1L321.5 1139L336.6 1212.6L296.4 1273.3L286.6 1286.2L230.1 1316.1L163.8 1336.8L111.2 1359.8L97.5 1359.8L97.5 1286.2L97.5 1212.6L97.5 1139Z" fill="#59bd8c"/>
<path d="M97.5 1065.4L97.5 1037.5L163.8 1046.8L222.3 1065.4L230.1 1068.9L296.4 1125.1L308.5 1139L324.4 1212.6L296.4 1254.8L272.4 1286.2L230.1 1308.6L163.8 1330.7L97.5 1359.6L97.5 1286.2L97.5 1212.6L97.5 1139Z" fill="#65be86"/>
<path d="M97.5 1065.4L97.5 1043.9L163.8 1054.3L198.8 1065.4L230.1 1079.5L295.6 1139L296.4 1143.1L312.1 1212.6L296.4 1236.3L258.3 1286.2L230.1 1301.1L163.8 1324.5L97.5 1353.4L97.5 1286.2L97.5 1212.6L97.5 1139Z" fill="#71bf80"/>
<path d="M97.5 1065.4L97.5 1050.2L163.8 1061.7L175.4 1065.4L230.1 1090.2L283.9 1139L296.4 1197.4L299.9 1212.6L296.4 1217.8L244.2 1286.2L230.1 1293.7L163.8 1318.4L97.5 1347.2L97.5 1286.2L97.5 1212.6L97.5 1139Z" fill="#7cbf7b"/>
<path d="M97.5 1065.4L97.5 1056.6L145.9 1065.4L163.8 1069.3L230.1 1100.8L272.2 1139L289.3 1212.6L230.1 1286.2L230.1 1286.2L163.8 1312.2L97.5 1341.1L97.5 1286.2L97.5 1212.6L97.5 1139Z" fill="#87bf77"/>
<path d="M97.5 1065.4L97.5 1063L110.6 1065.4L163.8 1076.8L230.1 1111.4L260.5 1139L279.3 1212.6L230.1 1273.8L214.4 1286.2L163.8 1306.1L97.5 1334.9L97.5 1286.2L97.5 1212.6L97.5 1139Z" fill="#92bf73"/>
<path d="M97.5 1139L97.5 1069.1L163.8 1084.4L230.1 1122L248.8 1139L269.4 1212.6L230.1 1261.4L198.7 1286.2L163.8 1299.9L97.5 1328.7L97.5 1286.2L97.5 1212.6Z" fill="#9cbf6f"/>
<path d="M97.5 1139L97.5 1074.9L163.8 1092L230.1 1132.6L237.2 1139L259.4 1212.6L230.1 1249L183.1 1286.2L163.8 1293.8L97.5 1322.5L97.5 1286.2L97.5 1212.6Z" fill="#a5be6b"/>
<path d="M97.5 1139L97.5 1080.7L163.8 1099.6L225.4 1139L230.1 1151.5L249.5 1212.6L230.1 1236.7L167.4 1286.2L163.8 1287.6L97.5 1316.3L97.5 1286.2L97.5 1212.6Z" fill="#aebe67"/>
<path d="M97.5 1139L97.5 1086.5L163.8 1107.2L213.6 1139L230.1 1182.9L239.5 1212.6L230.1 1224.3L163.8 1280.1L152.8 1286.2L97.5 1310.2L97.5 1286.2L97.5 1212.6Z" fill="#b7bd64"/>
<path d="M97.5 1139L97.5 1092.4L163.8 1114.8L201.7 1139L229.7 1212.6L163.8 1272.1L138.5 1286.2L97.5 1304L97.5 1286.2L97.5 1212.6Z" fill="#c0bc60"/>
<path d="M97.5 1139L97.5 1098.2L163.8 1122.4L189.8 1139L220.8 1212.6L163.8 1264.1L124.3 1286.2L97.5 1297.8L97.5 1286.2L97.5 1212.6Z" fill="#c8bc5d"/>
<path d="M97.5 1139L97.5 1104L163.8 1129.9L178 1139L212 1212.6L163.8 1256.2L110 1286.2L97.5 1291.6L97.5 1286.2L97.5 1212.6Z" fill="#d1bb59"/>
<path d="M97.5 1139L97.5 1109.8L163.8 1137.5L166.1 1139L203.2 1212.6L163.8 1248.2L97.5 1285.4L97.5 1212.6Z" fill="#d9ba56"/>
<path d="M97.5 1139L97.5 1115.7L152.7 1139L163.8 1152.9L194.4 1212.6L163.8 1240.2L97.5 1278.9L97.5 1212.6Z" fill="#e1b952"/>
<path d="M97.5 1139L97.5 1121.5L138.9 1139L163.8 1170.1L185.6 1212.6L163.8 1232.3L97.5 1272.4L97.5 1212.6Z" fill="#e9b94e"/>
<path d="M97.5 1139L97.5 1127.3L125.2 1139L163.8 1187.3L176.8 1212.6L163.8 1224.3L97.5 1265.8L97.5 1212.6Z" fill="#f1b94a"/>
<path d="M97.5 1139L97.5 1133.1L111.4 1139L163.8 1204.5L168 1212.6L163.8 1216.4L97.5 1259.3L97.5 1212.6Z" fill="#f8bb44"/>
<path d="M97.5 1139L97.5 1139L97.6 1139L158.6 1212.6L97.5 1252.8L97.5 1212.6Z" fill="#fdbe3d"/>
<path d="M97.5 1212.6L97.5 1150.9L148.7 1212.6L97.5 1246.2Z" fill="#ffc337"/>
<path d="M97.5 1212.6L97.5 1162.9L138.7 1212.6L97.5 1239.7Z" fill="#fec832"/>
<path d="M97.5 1212.6L97.5 1174.8L128.8 1212.6L97.5 1233.2Z" fill="#fcce2e"/>
<path d="M97.5 1212.6L97.5 1186.8L118.9 1212.6L97.5 1226.7Z" fill="#fad32a"/>
<path d="M97.5 1212.6L97.5 1198.8L108.9 1212.6L97.5 1220.1Z" fill="#f7d826"/>
<path d="M97.5 1212.6L97.5 1210.8L99 1212.6L97.5 1213.6Z" fill="#f5de21"/>
<path d="M97.5 823.8 L123.4 818.9 L125.3 818.6 M152.1 813.7 L152.2 813.7 L231.5 798.4 L287.5 791.0 L289.4 790.7 M316.1 785.8 L317.6 785.5 L368.2 778.1 L409.8 770.5 M97.5 909.9 L119.9 906.7 M140.7 905.0 L141.2 905.0 L164.5 902.3 L230.1 899.0 L283.4 903.6 L286.1 903.9 M306.7 906.4 L308.0 906.6 L368.2 917.6 L428.4 934.0 L449.4 935.0 M470.1 936.1 L495.4 937.3 L562.3 951.0 L610.2 968.7 L611.3 969.2 M630.3 977.6 L630.5 977.7 L656.4 991.4 L693.4 1033.5 L744.0 1065.8 L744.5 1066.7 M755.0 1084.6 L759.0 1091.4 L802.7 1139.3 L826.0 1186.3 L841.0 1170.7 L841.2 1170.5 M854.5 1154.5 L868.9 1139.3 L893.0 1088.7 M97.5 981.0 L103.4 981.0 M117.8 981.0 L120.7 981.0 L164.5 981.8 L231.5 989.2 L267.0 1000.7 L268.0 1001.1 M281.4 1006.2 L283.4 1007.0 L297.1 1012.5 L360.0 1052.1 L377.8 1065.8 L399.6 1097.0 M408.1 1108.5 L409.2 1110.0 L430.5 1139.3 L449.7 1212.6 L435.2 1248.7 L435.2 1248.7 M429.2 1261.8 L428.4 1263.7 L420.2 1286.4 L364.1 1325.2 L360.0 1328.0 L312.1 1348.5 L310.8 1349.0 M297.5 1354.6 L297.1 1354.8 L282.0 1360.0 M97.5 1041.7 L112.0 1043.8 M126.3 1045.9 L127.5 1046.1 L164.5 1051.6 L209.6 1065.8 L231.5 1075.9 L262.9 1102.4 L263.7 1103.3 M273.2 1114.0 L273.8 1114.7 L302.0 1139.3 L318.4 1212.6 L297.1 1241.8 L296.7 1242.5 M289.8 1255.2 L288.9 1256.9 L265.6 1286.4 L230.1 1304.2 L159.0 1326.6 L157.2 1327.4 M144.2 1333.6 L142.6 1334.3 L97.5 1356.7 M97.5 1097.7 L127.3 1107.8 M146.7 1115.4 L148.1 1116.0 L164.5 1120.7 L193.7 1139.3 L224.1 1212.6 L214.3 1220.8 M199.0 1234.8 L197.3 1236.4 L164.5 1266.5 L124.8 1286.4 L97.5 1297.4 M97.5 1161.2 L112.5 1176.2 L112.7 1176.4 M125.8 1192.5 L127.5 1194.5 L143.4 1212.6 L97.5 1241.8" fill="none" stroke="#000" stroke-width="2.2" stroke-linejoin="round"/>
<g font-family="DejaVu Sans, sans-serif" font-size="11.3" fill="#000" stroke="#000" stroke-width="0.2" text-anchor="middle" dominant-baseline="central"><text transform="translate(138.7 816.1) rotate(-10.2) scale(1 1.06)">-10</text><text transform="translate(302.7 788.2) rotate(-10.4) scale(1 1.06)">-10</text><text transform="translate(130.3 905.9) rotate(-4.5) scale(1 1.06)">-5</text><text transform="translate(296.4 905.2) rotate(7.0) scale(1 1.06)">-5</text><text transform="translate(459.7 935.5) rotate(2.8) scale(1 1.06)">-5</text><text transform="translate(620.8 973.4) rotate(23.9) scale(1 1.06)">-5</text><text transform="translate(749.8 1075.7) rotate(59.6) scale(1 1.06)">-5</text><text transform="translate(847.8 1162.4) rotate(-50.6) scale(1 1.06)">-5</text><text transform="translate(110.6 981.0) rotate(0.0) scale(1 1.06)">0</text><text transform="translate(274.7 1003.7) rotate(21.0) scale(1 1.06)">0</text><text transform="translate(403.8 1102.8) rotate(53.4) scale(1 1.06)">0</text><text transform="translate(432.2 1255.3) rotate(-65.6) scale(1 1.06)">0</text><text transform="translate(304.2 1351.8) rotate(-22.8) scale(1 1.06)">0</text><text transform="translate(119.2 1044.9) rotate(8.3) scale(1 1.06)">5</text><text transform="translate(268.4 1108.7) rotate(48.5) scale(1 1.06)">5</text><text transform="translate(293.3 1248.8) rotate(-61.5) scale(1 1.06)">5</text><text transform="translate(150.7 1330.5) rotate(-25.2) scale(1 1.06)">5</text><text transform="translate(137.0 1111.6) rotate(21.5) scale(1 1.06)">10</text><text transform="translate(206.7 1227.8) rotate(-42.6) scale(1 1.06)">10</text><text transform="translate(119.3 1184.4) rotate(50.7) scale(1 1.06)">15</text></g>
<g font-family="DejaVu Sans, sans-serif" font-weight="bold" fill="#262626"><text transform="translate(104.80 33.50) scale(1.000 1.077)" font-size="18.20" text-anchor="end">90-10</text><text transform="translate(104.80 107.08) scale(1.000 1.077)" font-size="18.20" text-anchor="end">80-20</text><text transform="translate(104.80 180.65) scale(1.000 1.077)" font-size="18.20" text-anchor="end">70-30</text><text transform="translate(104.80 254.23) scale(1.000 1.077)" font-size="18.20" text-anchor="end">60-40</text><text transform="translate(104.80 327.80) scale(1.000 1.077)" font-size="18.20" text-anchor="end">50-50</text><text transform="translate(104.80 401.38) scale(1.000 1.077)" font-size="18.20" text-anchor="end">40-60</text><text transform="translate(104.80 474.95) scale(1.000 1.077)" font-size="18.20" text-anchor="end">30-70</text><text transform="translate(104.80 548.52) scale(1.000 1.077)" font-size="18.20" text-anchor="end">20-80</text><text transform="translate(104.80 622.10) scale(1.000 1.077)" font-size="18.20" text-anchor="end">10-90</text><text transform="translate(91.45 778.10) scale(1.000 1.077)" font-size="18.20" text-anchor="end">90-10</text><text transform="translate(91.45 851.70) scale(1.000 1.077)" font-size="18.20" text-anchor="end">80-20</text><text transform="translate(91.45 925.30) scale(1.000 1.077)" font-size="18.20" text-anchor="end">70-30</text><text transform="translate(91.45 998.90) scale(1.000 1.077)" font-size="18.20" text-anchor="end">60-40</text><text transform="translate(91.45 1072.50) scale(1.000 1.077)" font-size="18.20" text-anchor="end">50-50</text><text transform="translate(91.45 1146.10) scale(1.000 1.077)" font-size="18.20" text-anchor="end">40-60</text><text transform="translate(91.45 1219.70) scale(1.000 1.077)" font-size="18.20" text-anchor="end">30-70</text><text transform="translate(91.45 1293.30) scale(1.000 1.077)" font-size="18.20" text-anchor="end">20-80</text><text transform="translate(91.45 1366.90) scale(1.000 1.077)" font-size="18.20" text-anchor="end">10-90</text><text transform="translate(176.87 637.25) scale(1.000 1.080)" font-size="18.40" text-anchor="middle">60</text><text transform="translate(309.43 637.25) scale(1.000 1.080)" font-size="18.40" text-anchor="middle">70</text><text transform="translate(441.98 637.25) scale(1.000 1.080)" font-size="18.40" text-anchor="middle">80</text><text transform="translate(574.52 637.25) scale(1.000 1.080)" font-size="18.40" text-anchor="middle">90</text><text transform="translate(707.07 637.25) scale(1.000 1.080)" font-size="18.40" text-anchor="middle">100</text><text transform="translate(839.62 637.25) scale(1.000 1.080)" font-size="18.40" text-anchor="middle">110</text><text transform="translate(98.10 1381.85) scale(1.000 1.080)" font-size="18.40" text-anchor="middle">50</text><text transform="translate(230.73 1381.85) scale(1.000 1.080)" font-size="18.40" text-anchor="middle">60</text><text transform="translate(363.37 1381.85) scale(1.000 1.080)" font-size="18.40" text-anchor="middle">70</text><text transform="translate(496.00 1381.85) scale(1.000 1.080)" font-size="18.40" text-anchor="middle">80</text><text transform="translate(628.63 1381.85) scale(1.000 1.080)" font-size="18.40" text-anchor="middle">90</text><text transform="translate(761.27 1381.85) scale(1.000 1.080)" font-size="18.40" text-anchor="middle">100</text><text transform="translate(893.90 1381.85) scale(1.000 1.080)" font-size="18.40" text-anchor="middle">110</text><text transform="translate(945.50 621.75) scale(1.000 1.060)" font-size="17.00" text-anchor="start">-15</text><text transform="translate(945.50 537.68) scale(1.000 1.060)" font-size="17.00" text-anchor="start">-10</text><text transform="translate(945.50 453.61) scale(1.000 1.060)" font-size="17.00" text-anchor="start">-5</text><text transform="translate(945.50 369.54) scale(1.000 1.060)" font-size="17.00" text-anchor="start">0</text><text transform="translate(945.50 285.46) scale(1.000 1.060)" font-size="17.00" text-anchor="start">5</text><text transform="translate(945.50 201.39) scale(1.000 1.060)" font-size="17.00" text-anchor="start">10</text><text transform="translate(945.50 117.32) scale(1.000 1.060)" font-size="17.00" text-anchor="start">15</text><text transform="translate(945.50 33.25) scale(1.000 1.060)" font-size="17.00" text-anchor="start">20</text><text transform="translate(950.55 1366.00) scale(1.000 1.060)" font-size="17.00" text-anchor="start">-15</text><text transform="translate(950.55 1281.89) scale(1.000 1.060)" font-size="17.00" text-anchor="start">-10</text><text transform="translate(950.55 1197.77) scale(1.000 1.060)" font-size="17.00" text-anchor="start">-5</text><text transform="translate(950.55 1113.66) scale(1.000 1.060)" font-size="17.00" text-anchor="start">0</text><text transform="translate(950.55 1029.54) scale(1.000 1.060)" font-size="17.00" text-anchor="start">5</text><text transform="translate(950.55 945.43) scale(1.000 1.060)" font-size="17.00" text-anchor="start">10</text><text transform="translate(950.55 861.31) scale(1.000 1.060)" font-size="17.00" text-anchor="start">15</text><text transform="translate(950.55 777.20) scale(1.000 1.060)" font-size="17.00" text-anchor="start">20</text><text transform="translate(508.75 659.35) scale(1.000 1.040)" font-size="18.30" text-anchor="middle" fill="#000">Condition 2 Velocity (kph)</text><text transform="translate(495.60 1403.95) scale(1.000 1.040)" font-size="18.30" text-anchor="middle" fill="#000">Condition 1 Velocity (kph)</text><text transform="translate(39.50 319.75) rotate(-90)" font-size="18.30" text-anchor="middle" fill="#000">% Mission Weighting on Conditions (1-2)</text><text transform="translate(27.00 1064.75) rotate(-90)" font-size="18.30" text-anchor="middle" fill="#000">% Mission Weighting on Conditions (1-2)</text><text transform="translate(994.50 320.85) rotate(-90)" font-size="16.50" text-anchor="middle" fill="#000">% L/D Improvement over B0Cam Design</text><text transform="translate(999.35 1064.65) rotate(-90)" font-size="16.50" text-anchor="middle" fill="#000">% L/D Improvement over B0Cam Design</text></g>
<g font-family="Liberation Serif, serif" fill="#000"><text transform="translate(501.50 713.00)" font-size="27.50" text-anchor="middle">(a)</text><text transform="translate(501.00 1456.05)" font-size="27.50" text-anchor="middle">(b)</text></g>
<rect x="917.00" y="606.50" width="23.10" height="9.80" fill="#352a87"/>
<rect x="917.00" y="597.31" width="23.10" height="9.80" fill="#363093"/>
<rect x="917.00" y="588.11" width="23.10" height="9.80" fill="#3637a0"/>
<rect x="917.00" y="578.92" width="23.10" height="9.80" fill="#353dad"/>
<rect x="917.00" y="569.72" width="23.10" height="9.80" fill="#3243ba"/>
<rect x="917.00" y="560.53" width="23.10" height="9.80" fill="#2c4ac7"/>
<rect x="917.00" y="551.33" width="23.10" height="9.80" fill="#2053d4"/>
<rect x="917.00" y="542.14" width="23.10" height="9.80" fill="#0f5cdd"/>
<rect x="917.00" y="532.94" width="23.10" height="9.80" fill="#0363e1"/>
<rect x="917.00" y="523.75" width="23.10" height="9.80" fill="#0268e1"/>
<rect x="917.00" y="514.55" width="23.10" height="9.80" fill="#046de0"/>
<rect x="917.00" y="505.36" width="23.10" height="9.80" fill="#0871de"/>
<rect x="917.00" y="496.16" width="23.10" height="9.80" fill="#0d75dc"/>
<rect x="917.00" y="486.97" width="23.10" height="9.80" fill="#1079da"/>
<rect x="917.00" y="477.77" width="23.10" height="9.80" fill="#127dd8"/>
<rect x="917.00" y="468.58" width="23.10" height="9.80" fill="#1481d6"/>
<rect x="917.00" y="459.38" width="23.10" height="9.80" fill="#1485d4"/>
<rect x="917.00" y="450.18" width="23.10" height="9.80" fill="#1389d3"/>
<rect x="917.00" y="440.99" width="23.10" height="9.80" fill="#108ed2"/>
<rect x="917.00" y="431.79" width="23.10" height="9.80" fill="#0c93d2"/>
<rect x="917.00" y="422.60" width="23.10" height="9.80" fill="#0998d1"/>
<rect x="917.00" y="413.40" width="23.10" height="9.80" fill="#079ccf"/>
<rect x="917.00" y="404.21" width="23.10" height="9.80" fill="#06a0cd"/>
<rect x="917.00" y="395.01" width="23.10" height="9.80" fill="#06a4ca"/>
<rect x="917.00" y="385.82" width="23.10" height="9.80" fill="#06a7c6"/>
<rect x="917.00" y="376.62" width="23.10" height="9.80" fill="#07a9c2"/>
<rect x="917.00" y="367.43" width="23.10" height="9.80" fill="#0aacbe"/>
<rect x="917.00" y="358.23" width="23.10" height="9.80" fill="#0faeb9"/>
<rect x="917.00" y="349.04" width="23.10" height="9.80" fill="#15b1b4"/>
<rect x="917.00" y="339.84" width="23.10" height="9.80" fill="#1db3af"/>
<rect x="917.00" y="330.65" width="23.10" height="9.80" fill="#25b5a9"/>
<rect x="917.00" y="321.45" width="23.10" height="9.80" fill="#2eb7a4"/>
<rect x="917.00" y="312.25" width="23.10" height="9.80" fill="#38b99e"/>
<rect x="917.00" y="303.06" width="23.10" height="9.80" fill="#42bb98"/>
<rect x="917.00" y="293.86" width="23.10" height="9.80" fill="#4dbc92"/>
<rect x="917.00" y="284.67" width="23.10" height="9.80" fill="#59bd8c"/>
<rect x="917.00" y="275.47" width="23.10" height="9.80" fill="#65be86"/>
<rect x="917.00" y="266.28" width="23.10" height="9.80" fill="#71bf80"/>
<rect x="917.00" y="257.08" width="23.10" height="9.80" fill="#7cbf7b"/>
<rect x="917.00" y="247.89" width="23.10" height="9.80" fill="#87bf77"/>
<rect x="917.00" y="238.69" width="23.10" height="9.80" fill="#92bf73"/>
<rect x="917.00" y="229.50" width="23.10" height="9.80" fill="#9cbf6f"/>
<rect x="917.00" y="220.30" width="23.10" height="9.80" fill="#a5be6b"/>
<rect x="917.00" y="211.11" width="23.10" height="9.80" fill="#aebe67"/>
<rect x="917.00" y="201.91" width="23.10" height="9.80" fill="#b7bd64"/>
<rect x="917.00" y="192.72" width="23.10" height="9.80" fill="#c0bc60"/>
<rect x="917.00" y="183.52" width="23.10" height="9.80" fill="#c8bc5d"/>
<rect x="917.00" y="174.33" width="23.10" height="9.80" fill="#d1bb59"/>
<rect x="917.00" y="165.13" width="23.10" height="9.80" fill="#d9ba56"/>
<rect x="917.00" y="155.93" width="23.10" height="9.80" fill="#e1b952"/>
<rect x="917.00" y="146.74" width="23.10" height="9.80" fill="#e9b94e"/>
<rect x="917.00" y="137.54" width="23.10" height="9.80" fill="#f1b94a"/>
<rect x="917.00" y="128.35" width="23.10" height="9.80" fill="#f8bb44"/>
<rect x="917.00" y="119.15" width="23.10" height="9.80" fill="#fdbe3d"/>
<rect x="917.00" y="109.96" width="23.10" height="9.80" fill="#ffc337"/>
<rect x="917.00" y="100.76" width="23.10" height="9.80" fill="#fec832"/>
<rect x="917.00" y="91.57" width="23.10" height="9.80" fill="#fcce2e"/>
<rect x="917.00" y="82.37" width="23.10" height="9.80" fill="#fad32a"/>
<rect x="917.00" y="73.18" width="23.10" height="9.80" fill="#f7d826"/>
<rect x="917.00" y="63.98" width="23.10" height="9.80" fill="#f5de21"/>
<rect x="917.00" y="54.79" width="23.10" height="9.80" fill="#f5e41d"/>
<rect x="917.00" y="45.59" width="23.10" height="9.80" fill="#f5eb18"/>
<rect x="917.00" y="36.40" width="23.10" height="9.80" fill="#f6f313"/>
<rect x="917.00" y="27.20" width="23.10" height="9.80" fill="#f9fb0e"/>
<rect x="917.00" y="27.20" width="23.10" height="588.50" fill="none" stroke="#444" stroke-width="1.1"/>
<path d="M934.3 615.7H940.1M934.3 531.6H940.1M934.3 447.6H940.1M934.3 363.5H940.1M934.3 279.4H940.1M934.3 195.3H940.1M934.3 111.3H940.1M934.3 27.2H940.1" stroke="#444" stroke-width="1.2" fill="none"/>
<rect x="922.20" y="1350.60" width="22.90" height="9.80" fill="#352a87"/>
<rect x="922.20" y="1341.40" width="22.90" height="9.80" fill="#363093"/>
<rect x="922.20" y="1332.20" width="22.90" height="9.80" fill="#3637a0"/>
<rect x="922.20" y="1323.00" width="22.90" height="9.80" fill="#353dad"/>
<rect x="922.20" y="1313.80" width="22.90" height="9.80" fill="#3243ba"/>
<rect x="922.20" y="1304.60" width="22.90" height="9.80" fill="#2c4ac7"/>
<rect x="922.20" y="1295.40" width="22.90" height="9.80" fill="#2053d4"/>
<rect x="922.20" y="1286.20" width="22.90" height="9.80" fill="#0f5cdd"/>
<rect x="922.20" y="1277.00" width="22.90" height="9.80" fill="#0363e1"/>
<rect x="922.20" y="1267.80" width="22.90" height="9.80" fill="#0268e1"/>
<rect x="922.20" y="1258.60" width="22.90" height="9.80" fill="#046de0"/>
<rect x="922.20" y="1249.40" width="22.90" height="9.80" fill="#0871de"/>
<rect x="922.20" y="1240.20" width="22.90" height="9.80" fill="#0d75dc"/>
<rect x="922.20" y="1231.00" width="22.90" height="9.80" fill="#1079da"/>
<rect x="922.20" y="1221.80" width="22.90" height="9.80" fill="#127dd8"/>
<rect x="922.20" y="1212.60" width="22.90" height="9.80" fill="#1481d6"/>
<rect x="922.20" y="1203.40" width="22.90" height="9.80" fill="#1485d4"/>
<rect x="922.20" y="1194.20" width="22.90" height="9.80" fill="#1389d3"/>
<rect x="922.20" y="1185.00" width="22.90" height="9.80" fill="#108ed2"/>
<rect x="922.20" y="1175.80" width="22.90" height="9.80" fill="#0c93d2"/>
<rect x="922.20" y="1166.60" width="22.90" height="9.80" fill="#0998d1"/>
<rect x="922.20" y="1157.40" width="22.90" height="9.80" fill="#079ccf"/>
<rect x="922.20" y="1148.20" width="22.90" height="9.80" fill="#06a0cd"/>
<rect x="922.20" y="1139.00" width="22.90" height="9.80" fill="#06a4ca"/>
<rect x="922.20" y="1129.80" width="22.90" height="9.80" fill="#06a7c6"/>
<rect x="922.20" y="1120.60" width="22.90" height="9.80" fill="#07a9c2"/>
<rect x="922.20" y="1111.40" width="22.90" height="9.80" fill="#0aacbe"/>
<rect x="922.20" y="1102.20" width="22.90" height="9.80" fill="#0faeb9"/>
<rect x="922.20" y="1093.00" width="22.90" height="9.80" fill="#15b1b4"/>
<rect x="922.20" y="1083.80" width="22.90" height="9.80" fill="#1db3af"/>
<rect x="922.20" y="1074.60" width="22.90" height="9.80" fill="#25b5a9"/>
<rect x="922.20" y="1065.40" width="22.90" height="9.80" fill="#2eb7a4"/>
<rect x="922.20" y="1056.20" width="22.90" height="9.80" fill="#38b99e"/>
<rect x="922.20" y="1047.00" width="22.90" height="9.80" fill="#42bb98"/>
<rect x="922.20" y="1037.80" width="22.90" height="9.80" fill="#4dbc92"/>
<rect x="922.20" y="1028.60" width="22.90" height="9.80" fill="#59bd8c"/>
<rect x="922.20" y="1019.40" width="22.90" height="9.80" fill="#65be86"/>
<rect x="922.20" y="1010.20" width="22.90" height="9.80" fill="#71bf80"/>
<rect x="922.20" y="1001.00" width="22.90" height="9.80" fill="#7cbf7b"/>
<rect x="922.20" y="991.80" width="22.90" height="9.80" fill="#87bf77"/>
<rect x="922.20" y="982.60" width="22.90" height="9.80" fill="#92bf73"/>
<rect x="922.20" y="973.40" width="22.90" height="9.80" fill="#9cbf6f"/>
<rect x="922.20" y="964.20" width="22.90" height="9.80" fill="#a5be6b"/>
<rect x="922.20" y="955.00" width="22.90" height="9.80" fill="#aebe67"/>
<rect x="922.20" y="945.80" width="22.90" height="9.80" fill="#b7bd64"/>
<rect x="922.20" y="936.60" width="22.90" height="9.80" fill="#c0bc60"/>
<rect x="922.20" y="927.40" width="22.90" height="9.80" fill="#c8bc5d"/>
<rect x="922.20" y="918.20" width="22.90" height="9.80" fill="#d1bb59"/>
<rect x="922.20" y="909.00" width="22.90" height="9.80" fill="#d9ba56"/>
<rect x="922.20" y="899.80" width="22.90" height="9.80" fill="#e1b952"/>
<rect x="922.20" y="890.60" width="22.90" height="9.80" fill="#e9b94e"/>
<rect x="922.20" y="881.40" width="22.90" height="9.80" fill="#f1b94a"/>
<rect x="922.20" y="872.20" width="22.90" height="9.80" fill="#f8bb44"/>
<rect x="922.20" y="863.00" width="22.90" height="9.80" fill="#fdbe3d"/>
<rect x="922.20" y="853.80" width="22.90" height="9.80" fill="#ffc337"/>
<rect x="922.20" y="844.60" width="22.90" height="9.80" fill="#fec832"/>
<rect x="922.20" y="835.40" width="22.90" height="9.80" fill="#fcce2e"/>
<rect x="922.20" y="826.20" width="22.90" height="9.80" fill="#fad32a"/>
<rect x="922.20" y="817.00" width="22.90" height="9.80" fill="#f7d826"/>
<rect x="922.20" y="807.80" width="22.90" height="9.80" fill="#f5de21"/>
<rect x="922.20" y="798.60" width="22.90" height="9.80" fill="#f5e41d"/>
<rect x="922.20" y="789.40" width="22.90" height="9.80" fill="#f5eb18"/>
<rect x="922.20" y="780.20" width="22.90" height="9.80" fill="#f6f313"/>
<rect x="922.20" y="771.00" width="22.90" height="9.80" fill="#f9fb0e"/>
<rect x="922.20" y="771.00" width="22.90" height="588.80" fill="none" stroke="#444" stroke-width="1.1"/>
<path d="M939.3 1359.8H945.1M939.3 1275.7H945.1M939.3 1191.6H945.1M939.3 1107.5H945.1M939.3 1023.3H945.1M939.3 939.2H945.1M939.3 855.1H945.1M939.3 771.0H945.1" stroke="#444" stroke-width="1.2" fill="none"/>
</svg></body></html>
